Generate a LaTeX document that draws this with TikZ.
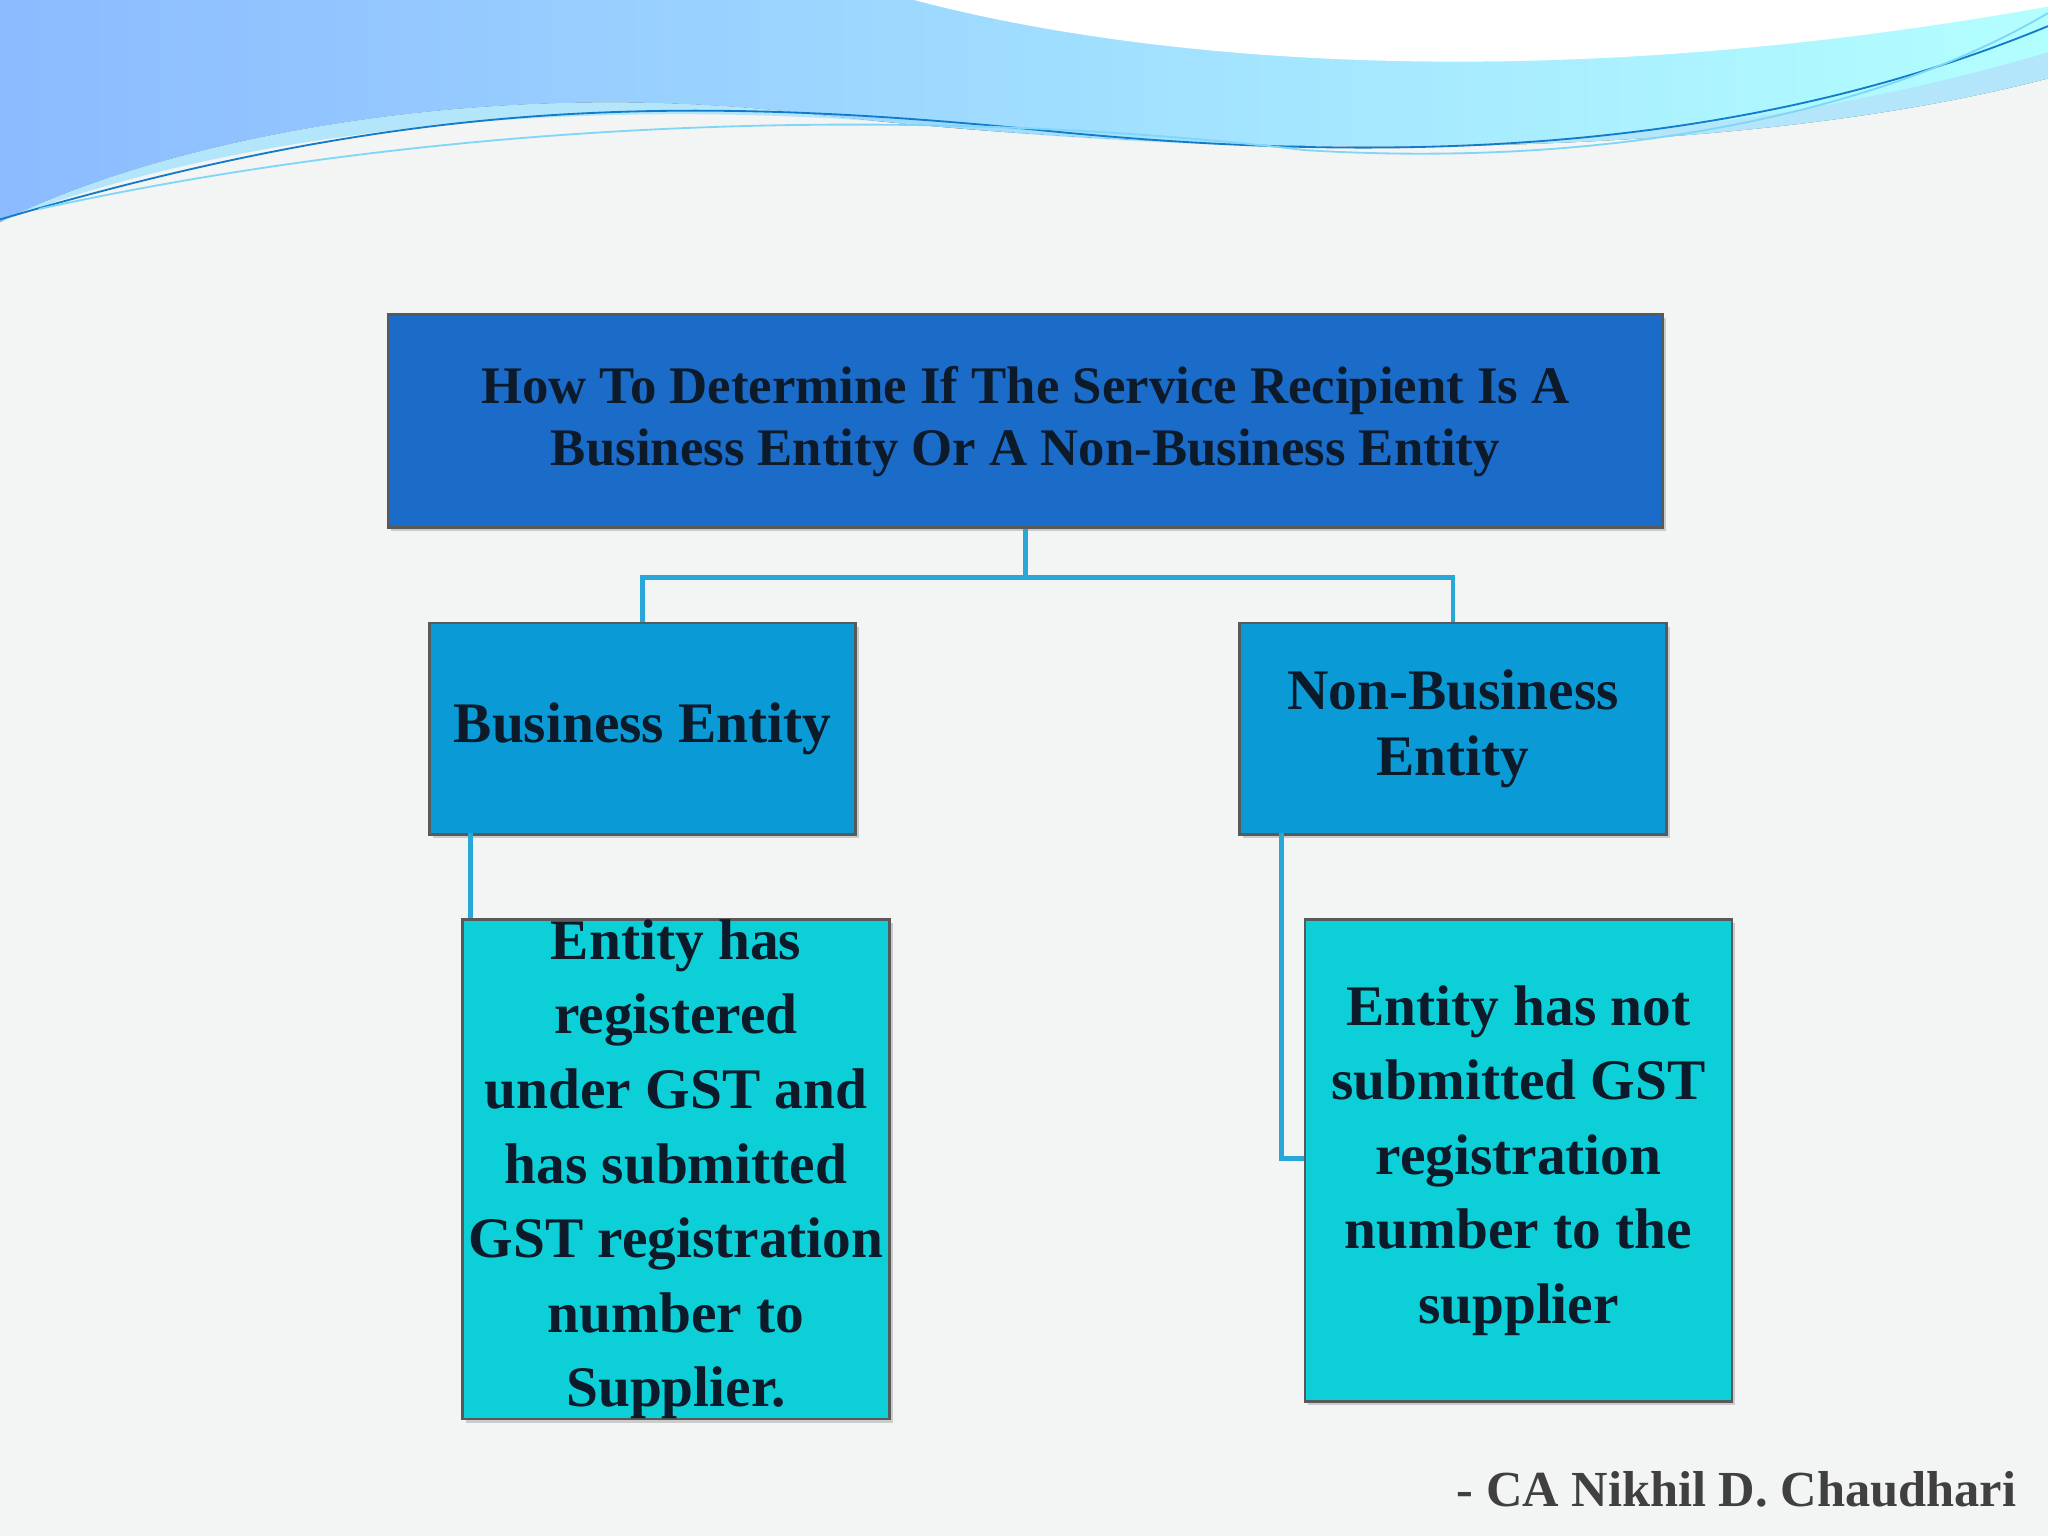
\documentclass[tikz,border=0pt]{standalone}
\usepackage{fontspec}
\setmainfont{Liberation Serif}
\usetikzlibrary{shadows}
\definecolor{bg}{HTML}{F3F4F4}
\definecolor{titlef}{HTML}{1A6CC8}
\definecolor{midf}{HTML}{0A9BD6}
\definecolor{lowf}{HTML}{0CCFD8}
\definecolor{conn}{HTML}{2AA7D9}
\definecolor{txt}{HTML}{0D1A2A}
\tikzset{
  box/.style={draw=black!65, line width=1.2pt, inner sep=0pt, anchor=north west,
    drop shadow={shadow xshift=1.5pt, shadow yshift=-1.5pt, opacity=0.35},
    font=\fontsize{23}{27}\selectfont\bfseries, text=txt, align=center},
  link/.style={draw=conn, line width=2pt}
}
\begin{document}
\begin{tikzpicture}[x=0.02cm,y=-0.02cm]
\fill[bg] (0,0) rectangle (1568,1176);
\useasboundingbox (0,0) rectangle (1568,1176);
% top wave decoration
\fill[left color=cyan!40!blue!45, right color=cyan!30] (0,0) -- (1568,0) -- (1568,60)
  .. controls (1300,130) and (900,120) .. (600,85)
  .. controls (350,60) and (120,110) .. (0,170) -- cycle;
\fill[white] (700,0) .. controls (850,40) and (1150,80) .. (1568,5) -- (1568,0) -- cycle;
\fill[white!70!cyan] (0,170) .. controls (150,110) and (400,70) .. (700,95)
  .. controls (1000,125) and (1300,120) .. (1568,40) -- (1568,60)
  .. controls (1300,130) and (900,120) .. (600,85)
  .. controls (350,60) and (120,110) .. (0,170) -- cycle;
\draw[cyan!60!blue, line width=0.8pt] (0,168) .. controls (300,80) and (500,70) .. (800,100)
  .. controls (1100,130) and (1350,110) .. (1568,20);
\draw[cyan!50, line width=0.8pt] (30,160) .. controls (350,90) and (700,80) .. (1000,115)
  .. controls (1250,130) and (1450,80) .. (1568,10);
% nodes
\node[box, fill=titlef, minimum width=976*0.02cm, minimum height=163*0.02cm] (t) at (296,240)
  {How To Determine If The Service Recipient Is A\\Business Entity Or A Non-Business Entity};
\node[box, fill=midf, minimum width=326*0.02cm, minimum height=162*0.02cm, font=\fontsize{25}{29}\selectfont\bfseries] (b) at (328,476) {Business Entity};
\node[box, fill=midf, minimum width=327*0.02cm, minimum height=162*0.02cm, font=\fontsize{25}{29}\selectfont\bfseries] (n) at (948,476) {Non-Business\\Entity};
\coordinate (bl) at (360,638);
\coordinate (nl) at (981,638);
\coordinate (nj) at (981,887);
\draw[link] (t.south) -- ++(0,37) -| (b.north);
\draw[link] (t.south) -- ++(0,37) -| (n.north);
\draw[link] (bl) -- (360,705);
\draw[link] (nl) -- (nj) -- (998,887);
\node[box, fill=lowf, minimum width=327*0.02cm, minimum height=343*0.02cm, font=\fontsize{25}{32.5}\selectfont\bfseries] (l) at (353,703)
  {Entity has\\registered\\under GST and\\has submitted\\GST registration\\number to\\Supplier.};
\node[box, fill=lowf, minimum width=327*0.02cm, minimum height=369*0.02cm, font=\fontsize{25}{32.5}\selectfont\bfseries] (r) at (998,703)
  {Entity has not\\submitted GST\\registration\\number to the\\supplier};
\node[font=\fontsize{22}{26}\selectfont\bfseries, text=black!75, anchor=east] (a) at (1550,1140) {- CA Nikhil D. Chaudhari};
\end{tikzpicture}
\end{document}
